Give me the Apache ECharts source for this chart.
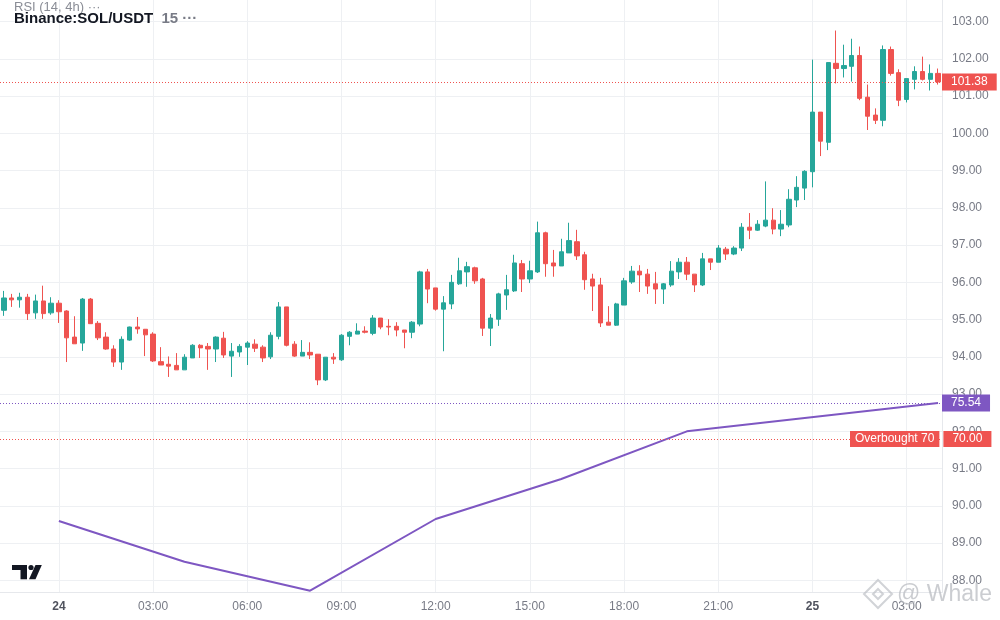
<!DOCTYPE html>
<html><head><meta charset="utf-8">
<script src="https://cdn.jsdelivr.net/npm/echarts@6/dist/echarts.min.js"></script>
<style>html,body{margin:0;padding:0;background:#fff}#c{width:1000px;height:620px}</style>
</head><body><div id="c"></div>
<script>
// 15-minute candles, 23rd 22:15 -> 25th 04:00
const opens = [95.25,95.58,95.53,95.60,95.18,95.50,95.18,95.44,95.23,94.53,
94.37,95.55,94.90,94.53,94.21,93.86,94.45,94.80,94.74,94.61,
93.87,93.80,93.77,93.65,93.97,94.31,94.28,94.21,94.50,94.02,
94.13,94.26,94.34,94.26,94.00,94.55,95.34,94.34,94.02,94.12,
94.07,93.38,93.99,93.92,94.55,94.61,94.69,94.63,95.04,94.82,
94.82,94.72,94.66,94.88,96.28,95.85,95.28,95.42,95.96,96.28,
96.39,96.09,94.77,95.01,95.66,95.77,96.50,96.09,96.28,97.33,
96.52,96.44,96.79,97.09,96.74,96.09,95.93,94.93,94.85,95.39,
96.01,96.30,96.22,95.96,95.82,95.93,96.28,96.54,96.22,95.93,
96.63,96.54,96.89,96.76,96.92,97.48,97.40,97.51,97.67,97.43,
97.54,98.21,98.53,98.97,100.57,99.76,101.88,101.74,101.80,102.09,
100.97,100.49,100.35,102.25,101.63,100.91,101.45,101.66,101.45,101.61];
const closes = [95.58,95.53,95.60,95.16,95.50,95.16,95.44,95.21,94.51,94.35,
95.55,94.89,94.51,94.21,93.86,94.47,94.80,94.75,94.59,93.89,
93.78,93.75,93.65,93.99,94.31,94.24,94.21,94.53,94.05,94.15,
94.28,94.37,94.23,93.97,94.58,95.34,94.31,94.02,94.12,94.05,
93.38,93.99,93.94,94.58,94.66,94.69,94.66,95.04,94.80,94.80,
94.72,94.66,94.93,96.28,95.82,95.28,95.45,96.00,96.31,96.42,
96.04,94.77,95.04,95.69,95.80,96.52,96.09,96.31,97.33,96.50,
96.44,96.82,97.12,96.71,96.07,95.90,94.91,94.85,95.42,96.04,
96.30,96.20,95.90,95.82,95.96,96.30,96.54,96.22,95.93,96.63,
96.54,96.92,96.76,96.92,97.48,97.40,97.56,97.67,97.43,97.56,
98.23,98.55,98.98,100.57,99.79,101.90,101.74,101.82,102.09,100.94,
100.46,100.35,102.25,101.61,100.89,101.47,101.66,101.45,101.61,101.38];
const lows = [95.10,95.34,95.32,94.99,95.02,95.02,95.13,94.91,93.86,94.35,
94.16,94.89,94.45,94.19,93.73,93.65,94.43,94.62,94.02,93.86,
93.78,93.46,93.65,93.65,93.97,93.97,93.65,93.86,93.97,93.46,
94.00,93.78,94.13,93.86,93.94,94.47,94.28,94.00,94.02,93.94,
93.24,93.35,93.81,93.89,94.31,94.61,94.63,94.58,94.74,94.58,
94.55,94.23,94.50,94.82,95.44,95.24,94.15,95.28,95.93,95.88,
95.96,94.56,94.29,94.83,95.26,95.74,95.74,95.98,96.25,96.15,
96.15,96.44,96.79,96.60,95.80,95.23,94.80,94.85,94.83,95.39,
95.96,95.74,95.69,95.42,95.42,95.88,96.09,96.06,95.74,95.90,
96.33,96.54,96.60,96.73,96.84,97.16,97.38,97.48,97.29,97.24,
97.48,98.02,98.21,98.55,99.39,99.55,101.34,101.50,101.39,100.89,
100.09,100.25,100.19,101.55,100.73,100.83,101.18,101.42,101.15,101.31];
const highs = [95.77,95.69,95.72,95.69,95.67,95.91,95.60,95.52,95.25,95.09,
95.58,95.58,94.96,94.66,94.31,94.55,94.81,95.07,94.74,94.66,
94.26,94.01,94.10,94.07,94.34,94.34,94.37,94.55,94.67,94.37,
94.34,94.42,94.47,94.31,94.66,95.47,95.34,94.42,94.45,94.39,
94.07,93.99,94.10,94.61,94.69,94.90,94.82,95.12,95.04,95.01,
94.93,94.72,94.96,96.31,96.36,95.85,95.63,96.20,96.66,96.55,
96.42,96.12,95.15,95.72,96.20,96.74,96.60,96.58,97.63,97.36,
96.87,97.17,97.60,97.41,96.82,96.23,96.12,95.36,95.45,96.12,
96.44,96.46,96.36,96.28,95.98,96.57,96.65,96.68,96.22,96.79,
96.63,97.00,96.95,96.97,97.59,97.86,97.67,98.71,97.99,97.94,
98.50,98.85,99.01,101.98,100.57,101.90,102.76,102.38,102.54,102.33,
101.31,100.67,102.36,102.33,101.72,101.47,101.80,102.06,101.85,101.74];

// RSI (14, 4h) points
const rsiTimes = ['24 00:00','24 04:00','24 08:00','24 12:00','24 16:00','24 20:00','25 04:00'];
const rsiValues = [57.38, 51.12, 46.65, 57.69, 63.84, 71.18, 75.54];

const lastPrice = 101.38;
const lastRsi = 75.54;
const overbought = 70;
const priceTicks = [88,89,90,91,92,93,94,95,96,97,98,99,100,101,102,103];

// time categories (15-minute steps)
const times = [];
for (let i = 0; i < opens.length; i++) {
  const m = 22 * 60 + 15 + i * 15;
  const d = 23 + Math.floor(m / 1440);
  const mm = m % 1440;
  const hh = String(Math.floor(mm / 60)).padStart(2, '0');
  const mi = String(mm % 60).padStart(2, '0');
  times.push(d + ' ' + hh + ':' + mi);
}
const candles = opens.map((o, i) => [o, closes[i], lows[i], highs[i]]);
const rsiData = rsiTimes.map((t, i) => [t, rsiValues[i]]);

const FONT = '"Liberation Sans", Arial, sans-serif';
const GRIDC = '#eef0f3';
const UP = '#26a69a', DOWN = '#ef5350', PURPLE = '#7e57c2';
const isMajor = (i) => (i - 7) % 12 === 0;

const chart = echarts.init(document.getElementById('c'), null, {renderer: 'canvas'});
chart.setOption({
  animation: false,
  backgroundColor: '#ffffff',
  textStyle: {fontFamily: FONT},
  title: [
    {text: 'RSI (14, 4h) \u00b7\u00b7\u00b7', left: 14, top: 1, padding: 0,
     textStyle: {fontSize: 13, fontWeight: 'normal', color: '#8a8d96', fontFamily: FONT}},
    {text: '{a|Binance:SOL/USDT}{b|  15 \u00b7\u00b7\u00b7}', left: 14, top: 11, padding: 0,
     textStyle: {rich: {
       a: {fontSize: 15, fontWeight: 'bold', color: '#131722', fontFamily: FONT},
       b: {fontSize: 15, color: '#787b86', fontFamily: FONT}
     }}}
  ],
  grid: {left: 0, right: 58, top: 0, bottom: 27.7, containLabel: false, outerBoundsMode: 'none'},
  xAxis: {
    type: 'category', data: times, boundaryGap: true,
    axisLine: {show: true, lineStyle: {color: '#e6e8ec'}},
    axisTick: {show: false},
    axisLabel: {
      interval: (i) => isMajor(i), margin: 8, color: '#787b86', fontSize: 12, fontFamily: FONT,
      formatter: (v) => {
        const parts = v.split(' ');
        if (parts[1] === '00:00') return '{d|' + parts[0] + '}';
        return parts[1];
      },
      rich: {d: {fontWeight: 'bold', color: '#50535e', fontSize: 12, fontFamily: FONT}}
    },
    splitLine: {show: true, interval: (i) => isMajor(i), alignWithLabel: true, lineStyle: {color: GRIDC, width: 1}}
  },
  yAxis: [
    {
      type: 'value', position: 'right', min: 87.678, max: 103.58, scale: true,
      axisLine: {show: true, lineStyle: {color: '#e6e8ec'}},
      axisTick: {show: false, customValues: priceTicks},
      axisLabel: {customValues: priceTicks, formatter: (v) => v.toFixed(2), color: '#787b86', margin: 10, fontSize: 12, fontFamily: FONT},
      splitLine: {show: true, lineStyle: {color: GRIDC, width: 1}}
    },
    {type: 'value', min: 46.41, max: 137.56, show: false, splitLine: {show: false}}
  ],
  series: [
    {
      type: 'candlestick', name: 'SOL/USDT', data: candles, barWidth: 4.8,
      itemStyle: {color: UP, color0: DOWN, borderColor: UP, borderColor0: DOWN, borderWidth: 1},
      markLine: {
        silent: true, symbol: 'none', animation: false,
        data: [{
          yAxis: lastPrice,
          lineStyle: {color: DOWN, type: [1, 2], width: 1},
          label: {show: true, position: 'end', distance: 0, formatter: (p) => Number(p.value).toFixed(2),
            backgroundColor: DOWN, color: '#fff', padding: [2, 9, 2, 9], fontSize: 12, lineHeight: 13, fontFamily: FONT}
        }]
      }
    },
    {
      type: 'line', name: 'RSI', yAxisIndex: 1, data: rsiData, showSymbol: false, symbol: 'none',
      lineStyle: {color: PURPLE, width: 2}, itemStyle: {color: PURPLE}, z: 3,
      markLine: {
        silent: true, symbol: 'none', animation: false,
        data: [
          {
            yAxis: lastRsi,
            lineStyle: {color: PURPLE, type: [1, 2], width: 1},
            label: {show: true, position: 'end', distance: 0, formatter: (p) => Number(p.value).toFixed(2),
              backgroundColor: PURPLE, color: '#fff', padding: [2, 9, 2, 9], fontSize: 12, lineHeight: 13, fontFamily: FONT}
          },
          {
            yAxis: overbought,
            lineStyle: {color: DOWN, type: [1, 2], width: 1},
            label: {show: true, position: 'end', distance: -92,
              formatter: (p) => '{a|Overbought ' + p.value + '}{g|}{b|' + Number(p.value).toFixed(2) + '}',
              rich: {
                a: {backgroundColor: DOWN, color: '#fff', padding: [2, 5, 2, 5], fontSize: 12, lineHeight: 13, fontFamily: FONT},
                g: {width: 4},
                b: {backgroundColor: DOWN, color: '#fff', padding: [2, 9, 2, 9], fontSize: 12, lineHeight: 13, fontFamily: FONT}
              }}
          }
        ]
      }
    }
  ],
  graphic: [
    {type: 'rect', shape: {x: 12, y: 565, width: 15, height: 5}, style: {fill: '#131722'}, z: 10},
    {type: 'rect', shape: {x: 20.5, y: 565, width: 6.5, height: 14.3}, style: {fill: '#131722'}, z: 10},
    {type: 'circle', shape: {cx: 31, cy: 567.5, r: 2.6}, style: {fill: '#131722'}, z: 10},
    {type: 'polygon', shape: {points: [[35.5, 565], [41.8, 565], [35.5, 579.3], [29, 579.3]]}, style: {fill: '#131722'}, z: 10},
    {type: 'polygon', shape: {points: [[878, 580], [892, 594], [878, 608], [864, 594]]}, style: {fill: 'none', stroke: 'rgba(190,192,198,0.7)', lineWidth: 2}, z: 10},
    {type: 'polygon', shape: {points: [[878, 589], [883, 594], [878, 599], [873, 594]]}, style: {fill: 'none', stroke: 'rgba(190,192,198,0.7)', lineWidth: 2}, z: 10},
    {type: 'text', x: 897, y: 595, style: {text: '@ Whale', fontSize: 23, fontFamily: FONT, fill: 'rgba(185,188,194,0.75)', verticalAlign: 'middle', align: 'left'}, z: 10}
  ]
});
</script></body></html>
